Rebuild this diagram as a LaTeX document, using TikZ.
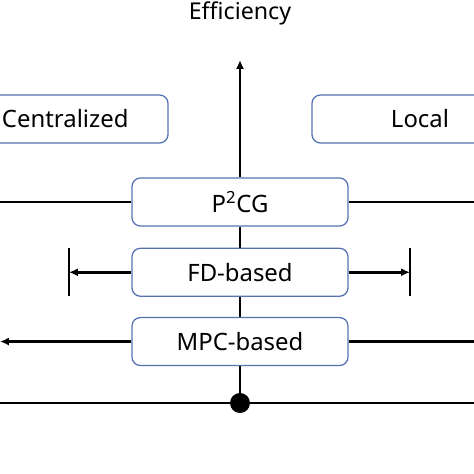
\documentclass[tikz,border=0pt]{standalone}
\usepackage{fontspec}
\setmainfont{Noto Sans}
\usepackage{xcolor}
\usepackage{tikz}
\usetikzlibrary{arrows.meta,calc,positioning}
\definecolor{boxblue}{RGB}{84,114,178}

\begin{document}
\begin{tikzpicture}[
  b/.style={draw=boxblue,line width=.9pt,rounded corners=6pt,fill=white,
    minimum width=5.4cm,minimum height=1.2cm,font=\fontsize{17}{20}\selectfont},
  l/.style={line width=2pt},
  f/.style={-{Latex[length=2.2mm,width=2mm]},line width=2pt}]
\clip (0,0) rectangle (11.85,-11.85);
\coordinate (L) at (0,0);
\coordinate (R) at (11.85,0);
\node[font=\fontsize{16.5}{19}\selectfont] (eff) at (6,-.33) {Efficiency};
\coordinate (top) at (6,-1.5);
\node[b,text width=4.9cm,align=left] (cen) at (1.5,-2.975) {\hspace*{1cm}Centralized};
\node[b] (loc) at (10.5,-2.975) {Local};
\node[b] (p2cg) at (6,-5.05) {P\textsuperscript{2}CG};
\node[b,below=.525cm of p2cg] (fd) {FD-based};
\node[b,below=.5cm of fd] (mpc) {MPC-based};
\coordinate (dot) at (6,-10.075);
\coordinate (fdl) at (1.725,-6.775);
\coordinate (fdr) at (10.25,-6.775);
% axis
\draw[f] (p2cg.north)--(top);
\draw[l] (p2cg.south)--(fd.north) (fd.south)--(mpc.north) (mpc.south)--(dot);
\fill (dot) circle (.25);
\draw[l] (dot -| L)--(dot -| R);
% side lines
\draw[l] (p2cg.west)--(p2cg.west -| L);
\draw[l] (p2cg.east)--(p2cg.east -| R);
\draw[f] (fd.west)--(fd.west -| fdl);
\draw[f] (fd.east)--(fd.east -| fdr);
\draw[l] ($(fd.west -| fdl)+(0,.6)$)--($(fd.west -| fdl)+(0,-.6)$);
\draw[l] ($(fd.east -| fdr)+(0,.6)$)--($(fd.east -| fdr)+(0,-.6)$);
\draw[f] (mpc.west)--(mpc.west -| L);
\draw[l] (mpc.east)--(mpc.east -| R);
\end{tikzpicture}
\end{document}
